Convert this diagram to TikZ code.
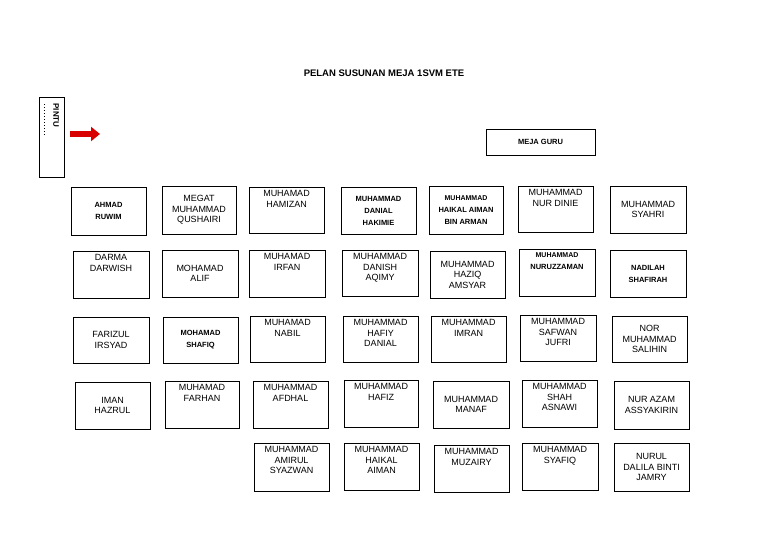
\documentclass[tikz,border=0pt]{standalone}
\usepackage{fontspec}
\setmainfont{Liberation Sans}
\usetikzlibrary{arrows.meta}
\begin{document}
\begin{tikzpicture}[x=1pt,y=-1pt,
  desk/.style={draw,line width=0.8pt},
  nm/.style={align=center,font=\fontsize{9}{10.5}\selectfont,inner sep=0pt},
  nb/.style={align=center,font=\fontsize{7.5}{12}\selectfont\bfseries,inner sep=0pt}]
\useasboundingbox (0,0) rectangle (768,543);
\node[font=\fontsize{9.5}{11}\selectfont\bfseries] (title) at (384,73) {PELAN SUSUNAN MEJA 1SVM ETE};
\node[desk,minimum width=109pt,minimum height=26pt] (guru) at (540.5,142) {};
\node[nb] (gurut) at (guru.center) {MEJA GURU};
\node[desk,minimum width=25pt,minimum height=80pt] (door) at (51.5,137) {};
\node[rotate=-90,font=\fontsize{8}{9}\selectfont\bfseries,anchor=west] (pintu) at (56,100) {PINTU};
\draw[dotted,line width=1pt] (44,104) -- (44,136);
\coordinate (a1) at (70,134); \coordinate (a2) at (100,134);
\draw[-{Triangle[length=9pt,width=14pt]},line width=6pt,red!85!black] (a1) -- (a2);
\newcommand\dsk[7]{%
  \node[desk,minimum width=#4-#2,minimum height=#5-#3] (#1) at ({(#2+#4)/2},{(#3+#5)/2}) {};
  \node[#6] (#1t) at ({(#2+#4)/2},{(#3+#5)/2}) {#7};}
\newcommand\dskt[7]{%
  \node[desk,minimum width=#4-#2,minimum height=#5-#3] (#1) at ({(#2+#4)/2},{(#3+#5)/2}) {};
  \node[#6,anchor=north] (#1t) at ([yshift=-4pt]#1.north) {#7};}
% row 1
\dsk{r1a}{71}{187}{146}{235}{nb}{AHMAD\\RUWIM}
\dsk{r1b}{162}{186}{236}{234}{nm}{MEGAT\\MUHAMMAD\\QUSHAIRI}
\dskt{r1c}{249}{187}{324}{233}{nm}{MUHAMAD\\HAMIZAN}
\dsk{r1d}{341}{187}{416}{234}{nb}{MUHAMMAD\\DANIAL\\HAKIMIE}
\dsk{r1e}{429}{186}{503}{234}{nb}{\fontsize{7}{8.5}\selectfont MUHAMMAD\\HAIKAL AIMAN\\BIN ARMAN}
\dskt{r1f}{518}{186}{593}{232}{nm}{MUHAMMAD\\NUR DINIE}
\dsk{r1g}{610}{186}{686}{233}{nm}{MUHAMMAD\\SYAHRI}
% row 2
\dskt{r2a}{73}{251}{149}{298}{nm}{DARMA\\DARWISH}
\dsk{r2b}{162}{250}{238}{297}{nm}{MOHAMAD\\ALIF}
\dskt{r2c}{249}{250}{325}{297}{nm}{MUHAMAD\\IRFAN}
\dskt{r2d}{342}{250}{418}{296}{nm}{MUHAMMAD\\DANISH\\AQIMY}
\dsk{r2e}{430}{251}{505}{298}{nm}{MUHAMMAD\\HAZIQ\\AMSYAR}
\dskt{r2f}{519}{249}{595}{296}{nb}{\fontsize{7}{9.5}\selectfont MUHAMMAD\\NURUZZAMAN}
\dsk{r2g}{610}{250}{686}{297}{nb}{NADILAH\\SHAFIRAH}
% row 3
\dsk{r3a}{73}{317}{149}{363}{nm}{FARIZUL\\IRSYAD}
\dsk{r3b}{163}{317}{238}{363}{nb}{MOHAMAD\\SHAFIQ}
\dskt{r3c}{250}{316}{325}{362}{nm}{MUHAMAD\\NABIL}
\dskt{r3d}{343}{316}{418}{362}{nm}{MUHAMMAD\\HAFIY\\DANIAL}
\dskt{r3e}{431}{316}{506}{362}{nm}{MUHAMMAD\\IMRAN}
\dskt{r3f}{520}{315}{596}{361}{nm}{MUHAMMAD\\SAFWAN\\JUFRI}
\dsk{r3g}{612}{316}{687}{362}{nm}{NOR\\MUHAMMAD\\SALIHIN}
% row 4
\dsk{r4a}{75}{382}{150}{429}{nm}{IMAN\\HAZRUL}
\dskt{r4b}{165}{381}{239}{428}{nm}{MUHAMAD\\FARHAN}
\dskt{r4c}{253}{381}{328}{428}{nm}{MUHAMMAD\\AFDHAL}
\dskt{r4d}{344}{380}{418}{427}{nm}{MUHAMMAD\\HAFIZ}
\dsk{r4e}{433}{381}{509}{428}{nm}{MUHAMMAD\\MANAF}
\dskt{r4f}{522}{380}{597}{427}{nm}{MUHAMMAD\\SHAH\\ASNAWI}
\dsk{r4g}{614}{381}{689}{429}{nm}{NUR AZAM\\ASSYAKIRIN}
% row 5
\dskt{r5a}{254}{443}{329}{491}{nm}{MUHAMMAD\\AMIRUL\\SYAZWAN}
\dskt{r5b}{344}{443}{419}{490}{nm}{MUHAMMAD\\HAIKAL\\AIMAN}
\dskt{r5c}{434}{445}{509}{492}{nm}{MUHAMMAD\\MUZAIRY}
\dskt{r5d}{522}{443}{598}{490}{nm}{MUHAMMAD\\SYAFIQ}
\dsk{r5e}{614}{443}{689}{491}{nm}{NURUL\\DALILA BINTI\\JAMRY}
\end{tikzpicture}
\end{document}
